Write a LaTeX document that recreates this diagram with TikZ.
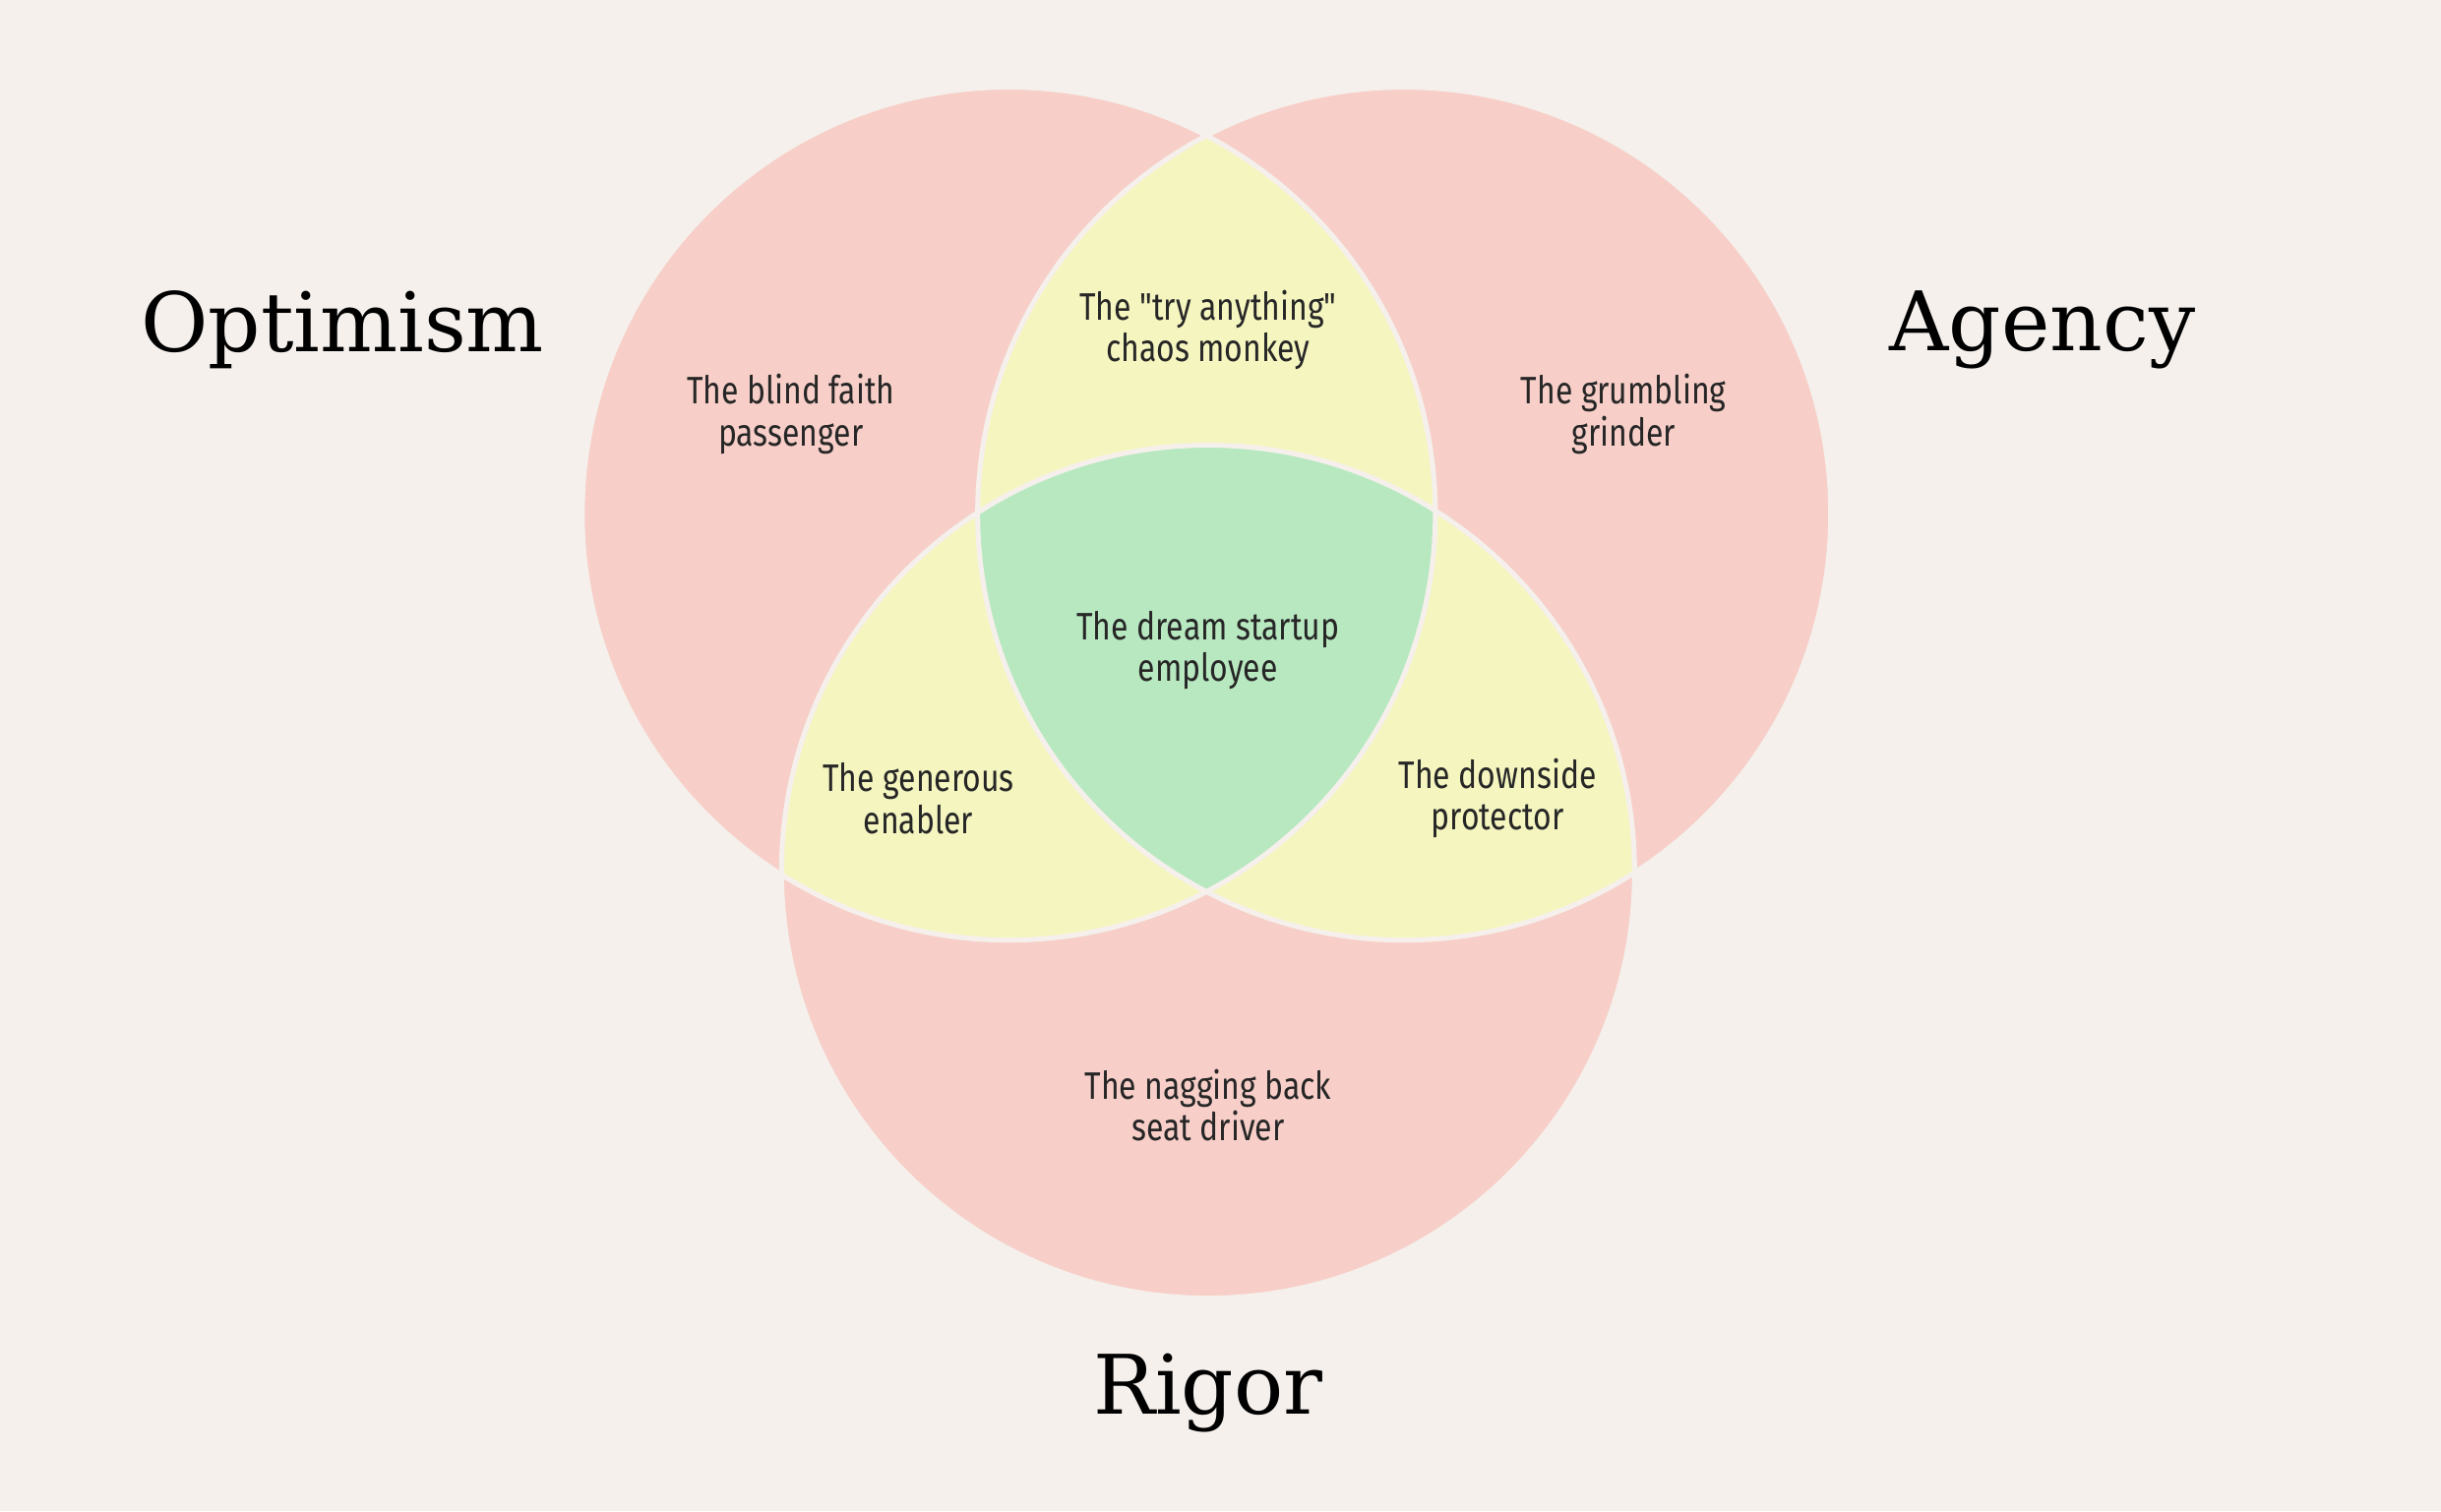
\documentclass[tikz,border=0pt]{standalone}
\usepackage{fontspec}
\newfontfamily\lab[FakeStretch=0.82]{Fira Sans}
\newfontfamily\ttl{DejaVu Serif}
\definecolor{bg}{HTML}{F5F0EC}
\definecolor{pk}{HTML}{F7CFC8}
\definecolor{yl}{HTML}{F5F5C0}
\definecolor{gr}{HTML}{B8E8C0}
\begin{document}
\begin{tikzpicture}[x=0.01cm,y=-0.01cm,
  lbl/.style={font=\lab\fontsize{7}{7.6}\selectfont,align=center,text=black!85},
  title/.style={font=\ttl\fontsize{15}{16}\selectfont}]
\fill[bg] (0,0) rectangle (1568,971);
\useasboundingbox (0,0) rectangle (1568,971);
\def\cL{(648,330) circle (274)}
\def\cR{(902,330) circle (274)}
\def\cB{(776,560) circle (274)}
\fill[pk] \cL; \fill[pk] \cR; \fill[pk] \cB;
\begin{scope}\clip \cL; \fill[yl] \cR; \fill[yl] \cB; \end{scope}
\begin{scope}\clip \cR; \fill[yl] \cB; \end{scope}
\begin{scope}\clip \cL; \clip \cR; \fill[gr] \cB; \end{scope}
\draw[bg,line width=0.9pt] \cL; \draw[bg,line width=0.9pt] \cR; \draw[bg,line width=0.9pt] \cB;
\node[title] (o) at (220,212) {Optimism};
\node[title] (a) at (1312,212) {Agency};
\node[title] (r) at (776,895) {Rigor};
\node[lbl] (n1) at (508,266) {The blind faith\\passenger};
\node[lbl] (n2) at (776,212) {The "try anything"\\chaos monkey};
\node[lbl] (n3) at (1043,266) {The grumbling\\grinder};
\node[lbl] (n4) at (776,418) {The dream startup\\employee};
\node[lbl] (n5) at (590,513) {The generous\\enabler};
\node[lbl] (n6) at (962,513) {The downside\\protector};
\node[lbl] (n7) at (776,710) {The nagging back\\seat driver};
\end{tikzpicture}
\end{document}
